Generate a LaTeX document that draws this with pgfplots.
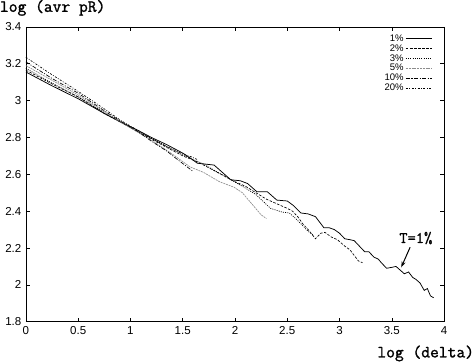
\documentclass[border=0pt]{standalone}
\usepackage{fontspec}
\setmainfont{Liberation Sans}
\newfontfamily\courb{Latin Modern Mono}[FakeBold=1.4]
\newfontfamily\courm{Latin Modern Mono}[FakeBold=0.7]
\usepackage{pgfplots}
\pgfplotsset{compat=1.18}
\usetikzlibrary{arrows.meta}
\begin{document}
\begin{tikzpicture}[x=1pt,y=1pt]
\begin{axis}[
  at={(26pt,40pt)},
  scale only axis,
  width=417pt, height=294pt,
  xmin=0, xmax=4, ymin=1.8, ymax=3.4,
  xtick={0,0.5,1,1.5,2,2.5,3,3.5,4},
  ytick={1.8,2,2.2,2.4,2.6,2.8,3,3.2,3.4},
  tick align=inside,
  major tick length=4pt,
  tick style={black, line width=0.6pt},
  axis line style={line width=0.6pt},
  /pgf/number format/assume math mode=true,
  ticklabel style={font=\fontsize{11.5}{13}\selectfont},
  xticklabel style={yshift=-1pt},
  yticklabel style={xshift=-1pt},
  clip=false,
  legend style={at={(rel axis cs:0.975,0.985)}, anchor=north east, draw=none, fill=none,
    font=\fontsize{9.5}{9}\selectfont, row sep=-2.2pt, inner sep=1pt},
  legend cell align=right,
  legend plot pos=right,
  legend image code/.code={\draw[#1] (0pt,0pt) -- (26pt,0pt);},
  every axis plot/.append style={line width=0.65pt},
]
% 1%
\addplot[black, solid, line width=0.75pt] coordinates {
(0,3.155)(0.25,3.08)(0.5,3.01)(0.75,2.93)(0.9,2.885)(1.05,2.845)(1.2,2.80)(1.35,2.76)(1.5,2.715)(1.58,2.685)(1.64,2.66)(1.72,2.655)(1.80,2.65)(1.88,2.61)(1.96,2.57)(2.05,2.565)(2.12,2.55)(2.21,2.505)(2.31,2.505)(2.40,2.46)(2.50,2.455)(2.56,2.43)(2.63,2.39)(2.70,2.385)(2.77,2.37)(2.85,2.31)(2.90,2.31)(2.95,2.30)(3.00,2.28)(3.05,2.25)(3.10,2.245)(3.14,2.24)(3.19,2.21)(3.24,2.18)(3.28,2.18)(3.33,2.15)(3.37,2.14)(3.40,2.12)(3.45,2.09)(3.50,2.095)(3.54,2.10)(3.58,2.08)(3.62,2.06)(3.66,2.07)(3.70,2.04)(3.73,2.03)(3.77,2.01)(3.79,1.99)(3.81,1.97)(3.84,1.98)(3.87,1.94)(3.90,1.93)};
\addlegendentry{1\%}
% 2%
\addplot[black, dash pattern=on 2.5pt off 1.5pt] coordinates {
(0,3.165)(0.25,3.09)(0.5,3.02)(0.75,2.93)(0.9,2.885)(1.2,2.79)(1.5,2.70)(1.65,2.665)(1.8,2.62)(2.0,2.56)(2.1,2.535)(2.2,2.50)(2.3,2.465)(2.4,2.44)(2.5,2.415)(2.55,2.40)(2.6,2.37)(2.65,2.33)(2.7,2.30)(2.77,2.25)(2.82,2.28)(2.86,2.285)(2.92,2.26)(2.98,2.245)(3.05,2.21)(3.10,2.19)(3.14,2.16)(3.18,2.13)(3.22,2.12)};
\addlegendentry{2\%}
% 3%
\addplot[black, dash pattern=on 1pt off 1.2pt] coordinates {
(0,3.175)(0.25,3.095)(0.5,3.02)(0.75,2.935)(0.9,2.885)(1.2,2.795)(1.5,2.705)(1.7,2.655)(1.9,2.59)(2.1,2.525)(2.2,2.49)(2.34,2.415)(2.45,2.395)(2.52,2.39)(2.58,2.36)(2.65,2.32)(2.70,2.29)(2.75,2.27)};
\addlegendentry{3\%}
% 5%
\addplot[black!45, dash pattern=on 2pt off 0.8pt] coordinates {
(0,3.19)(0.25,3.11)(0.5,3.03)(0.75,2.94)(0.9,2.885)(1.2,2.785)(1.4,2.71)(1.57,2.64)(1.7,2.61)(1.85,2.56)(1.99,2.53)(2.07,2.50)(2.13,2.46)(2.19,2.42)(2.25,2.38)(2.30,2.36)};
\addlegendentry{5\%}
% 10%
\addplot[black, dash pattern=on 4pt off 1.5pt on 1pt off 1.5pt] coordinates {
(0,3.21)(0.25,3.12)(0.5,3.04)(0.75,2.945)(0.9,2.89)(1.05,2.84)(1.2,2.78)(1.35,2.725)(1.45,2.68)(1.52,2.65)(1.6,2.615)};
\addlegendentry{10\%}
% 20%
\addplot[black, dash pattern=on 2pt off 1.5pt on 0.8pt off 1.5pt] coordinates {
(0,3.235)(0.25,3.14)(0.5,3.05)(0.75,2.955)(0.9,2.895)(1.05,2.845)(1.2,2.795)(1.35,2.75)(1.5,2.71)(1.58,2.695)(1.64,2.68)};
\addlegendentry{20\%}
\node[inner sep=0pt] at (axis cs:3.73,2.254) {\courm\fontsize{16}{16}\selectfont T=1\%};
\draw[-{Stealth[length=6pt,width=4pt]}, line width=1pt] (axis cs:3.675,2.204) -- (axis cs:3.59,2.095);
\node[anchor=base west, inner sep=0pt] at (rel axis cs:-0.0624,1.051) {\courb\fontsize{17}{17}\selectfont log (avr pR)};
\node[anchor=base east, inner sep=0pt] at (rel axis cs:1.072,-0.121) {\courb\fontsize{17}{17}\selectfont log (delta)};
\end{axis}
\end{tikzpicture}
\end{document}
